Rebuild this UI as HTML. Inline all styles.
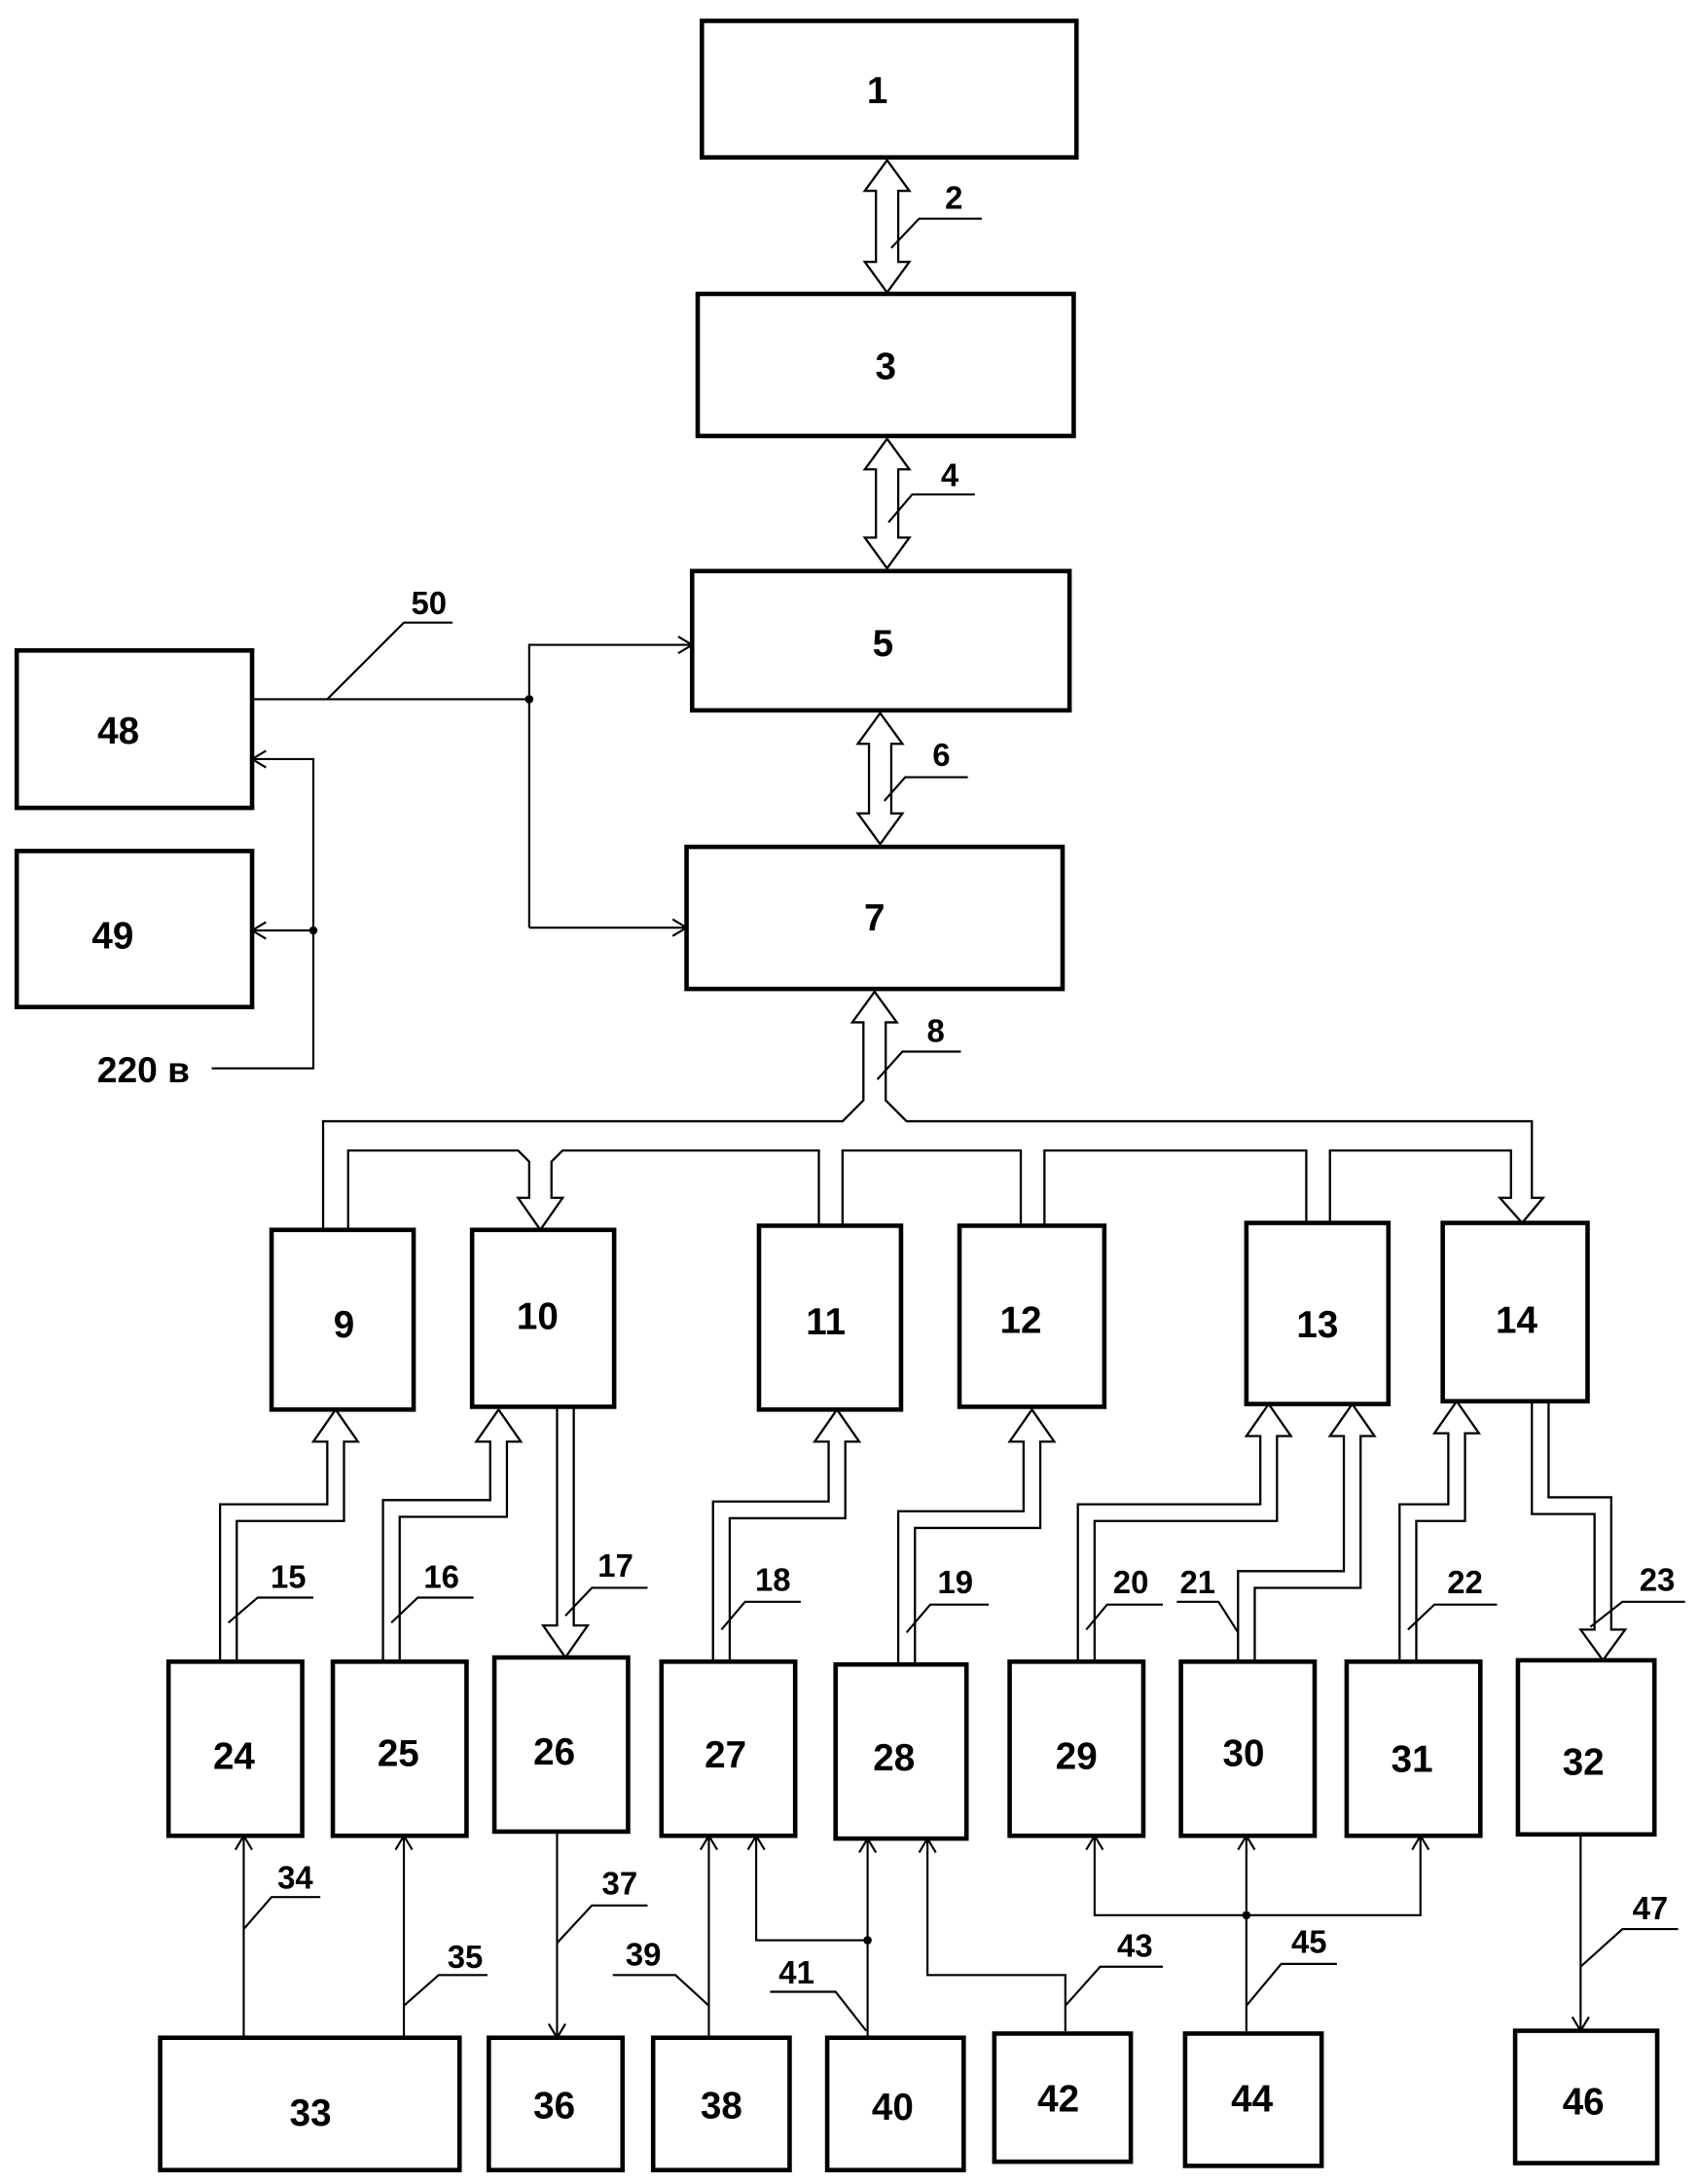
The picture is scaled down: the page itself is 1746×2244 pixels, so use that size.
<!DOCTYPE html>
<html><head><meta charset="utf-8"><style>
html,body{margin:0;padding:0;background:#fff}
svg{display:block}
text{font-family:"Liberation Sans",sans-serif;font-weight:bold;fill:#000}
.n{font-size:27px;text-anchor:middle}
.l{font-size:23px;text-anchor:middle}
</style></head><body>
<svg width="1746" height="2244" viewBox="0 0 1220 1568" xmlns="http://www.w3.org/2000/svg">
<defs>
<marker id="a" markerWidth="14" markerHeight="14" refX="12" refY="7" orient="auto" markerUnits="userSpaceOnUse">
<path d="M2,1 L12,7 L2,13" fill="none" stroke="#000" stroke-width="1.5"/>
</marker>
</defs>
<g fill="none" stroke="#000" stroke-width="3.2">
<rect x="504" y="15" width="269" height="98"/>
<rect x="501" y="211" width="270" height="102"/>
<rect x="497" y="410" width="271" height="100"/>
<rect x="493" y="608" width="270" height="102"/>
<rect x="12" y="467" width="169" height="113"/>
<rect x="12" y="611" width="169" height="112"/>
<rect x="195" y="883" width="102" height="129"/>
<rect x="339" y="883" width="102" height="127"/>
<rect x="545" y="880" width="102" height="132"/>
<rect x="689" y="880" width="104" height="130"/>
<rect x="895" y="878" width="102" height="130"/>
<rect x="1036" y="878" width="104" height="128"/>
<rect x="121" y="1193" width="96" height="125"/>
<rect x="239" y="1193" width="96" height="125"/>
<rect x="355" y="1190" width="96" height="125"/>
<rect x="475" y="1193" width="96" height="125"/>
<rect x="600" y="1195" width="94" height="125"/>
<rect x="725" y="1193" width="96" height="125"/>
<rect x="848" y="1193" width="96" height="125"/>
<rect x="967" y="1193" width="96" height="125"/>
<rect x="1090" y="1192" width="98" height="125"/>
<rect x="115" y="1463" width="215" height="95"/>
<rect x="351" y="1463" width="96" height="95"/>
<rect x="469" y="1463" width="98" height="95"/>
<rect x="594" y="1463" width="98" height="95"/>
<rect x="714" y="1460" width="98" height="92"/>
<rect x="851" y="1460" width="98" height="95"/>
<rect x="1088" y="1458" width="102" height="95"/>
</g>
<g fill="#fff" stroke="#000" stroke-width="1.6" stroke-linejoin="miter">
<polygon points="637,115 653,137 645,137 645,188 653,188 637,210 621,188 629,188 629,137 621,137"/>
<polygon points="637,315 653,337 645,337 645,386 653,386 637,408 621,386 629,386 629,337 621,337"/>
<polygon points="632,512 648,534 640,534 640,584 648,584 632,606 616,584 624,584 624,534 616,534"/>
</g>
<g fill="none" stroke="#000" stroke-width="1.6">
<!-- bus 8 -->
<polyline points="232,883 232,805 605,805 620,790 620,734 612,734 628,712 644,734 636,734 636,790 651,805 1100,805 1100,860 1108,860 1093,878 1077,860 1085,860 1085,826 955,826 955,878"/>
<polyline points="250,883 250,826 372,826 380,834 380,860 372,860 388,883 404,860 396,860 396,834 404,826 588,826 588,880"/>
<polyline points="605,880 605,826 733,826 733,880"/>
<polyline points="750,880 750,826 938,826 938,878"/>
<!-- up buses -->
<polyline points="158,1193 158,1080 235,1080 235,1035 225,1035 241,1012 257,1035 247,1035 247,1092 170,1092 170,1193"/>
<polyline points="275,1193 275,1077 352,1077 352,1035 342,1035 358,1012 374,1035 364,1035 364,1089 287,1089 287,1193"/>
<polyline points="512,1193 512,1078 595,1078 595,1035 585,1035 601,1012 617,1035 607,1035 607,1090 524,1090 524,1193"/>
<polyline points="645,1195 645,1085 735,1085 735,1035 725,1035 741,1012 757,1035 747,1035 747,1097 657,1097 657,1195"/>
<polyline points="774,1193 774,1080 905,1080 905,1031 895,1031 911,1008 927,1031 917,1031 917,1092 786,1092 786,1193"/>
<polyline points="889,1193 889,1128 965,1128 965,1031 955,1031 971,1008 987,1031 977,1031 977,1140 901,1140 901,1193"/>
<polyline points="1005,1193 1005,1080 1040,1080 1040,1029 1030,1029 1046,1006 1062,1029 1052,1029 1052,1092 1017,1092 1017,1193"/>
<!-- down buses -->
<polyline points="400,1010 400,1167 390,1167 406,1190 422,1167 412,1167 412,1010"/>
<polyline points="1100,1006 1100,1087 1145,1087 1145,1170 1135,1170 1151,1192 1167,1170 1157,1170 1157,1075 1112,1075 1112,1006"/>
</g>
<g fill="none" stroke="#000" stroke-width="1.5">
<!-- power -->
<line x1="181" y1="502" x2="380" y2="502"/>
<polyline points="380,666 380,463 497,463" marker-end="url(#a)"/>
<line x1="380" y1="666" x2="493" y2="666" marker-end="url(#a)"/>
<polyline points="152,767 225,767 225,545 181,545" marker-end="url(#a)"/>
<line x1="225" y1="668" x2="181" y2="668" marker-end="url(#a)"/>
<!-- thin -->
<line x1="175" y1="1463" x2="175" y2="1318" marker-end="url(#a)"/>
<line x1="290" y1="1463" x2="290" y2="1318" marker-end="url(#a)"/>
<line x1="400" y1="1315" x2="400" y2="1463" marker-end="url(#a)"/>
<line x1="509" y1="1463" x2="509" y2="1318" marker-end="url(#a)"/>
<line x1="623" y1="1463" x2="623" y2="1320" marker-end="url(#a)"/>
<polyline points="623,1393 543,1393 543,1318" marker-end="url(#a)"/>
<polyline points="765,1460 765,1418 666,1418 666,1320" marker-end="url(#a)"/>
<line x1="895" y1="1460" x2="895" y2="1318" marker-end="url(#a)"/>
<polyline points="895,1375 786,1375 786,1318" marker-end="url(#a)"/>
<polyline points="895,1375 1020,1375 1020,1318" marker-end="url(#a)"/>
<line x1="1135" y1="1317" x2="1135" y2="1458" marker-end="url(#a)"/>
<!-- leaders -->
<polyline points="640,178 660,157 705,157"/>
<polyline points="638,375 655,355 700,355"/>
<polyline points="635,575 650,558 695,558"/>
<polyline points="630,775 648,755 690,755"/>
<polyline points="235,502 290,447 325,447"/>
<polyline points="164,1165 185,1147 225,1147"/>
<polyline points="281,1165 300,1147 340,1147"/>
<polyline points="406,1160 425,1140 465,1140"/>
<polyline points="518,1170 535,1150 575,1150"/>
<polyline points="651,1172 668,1152 710,1152"/>
<polyline points="780,1170 795,1152 835,1152"/>
<polyline points="889,1172 875,1150 845,1150"/>
<polyline points="1011,1170 1030,1152 1075,1152"/>
<polyline points="1142,1168 1165,1150 1210,1150"/>
<polyline points="175,1385 195,1362 230,1362"/>
<polyline points="290,1440 315,1418 350,1418"/>
<polyline points="400,1395 425,1368 465,1368"/>
<polyline points="509,1440 485,1418 440,1418"/>
<polyline points="622,1458 600,1430 553,1430"/>
<polyline points="765,1440 790,1412 835,1412"/>
<polyline points="895,1440 920,1410 960,1410"/>
<polyline points="1135,1412 1165,1385 1205,1385"/>
</g>
<g fill="#000">
<circle cx="380" cy="502" r="3"/><circle cx="225" cy="668" r="3"/>
<circle cx="623" cy="1393" r="3"/><circle cx="895" cy="1375" r="3"/>
</g>
<g class="n">
<text class="n" x="630" y="74">1</text>
<text class="n" x="636" y="272">3</text>
<text class="n" x="634" y="471">5</text>
<text class="n" x="628" y="668">7</text>
<text class="n" x="85" y="534">48</text>
<text class="n" x="81" y="681">49</text>
<text class="n" x="247" y="960">9</text>
<text class="n" x="386" y="954">10</text>
<text class="n" x="593" y="958">11</text>
<text class="n" x="733" y="957">12</text>
<text class="n" x="946" y="960">13</text>
<text class="n" x="1089" y="957">14</text>
<text class="n" x="168" y="1270">24</text>
<text class="n" x="286" y="1268">25</text>
<text class="n" x="398" y="1267">26</text>
<text class="n" x="521" y="1269">27</text>
<text class="n" x="642" y="1271">28</text>
<text class="n" x="773" y="1270">29</text>
<text class="n" x="893" y="1268">30</text>
<text class="n" x="1014" y="1272">31</text>
<text class="n" x="1137" y="1274">32</text>
<text class="n" x="223" y="1526">33</text>
<text class="n" x="398" y="1521">36</text>
<text class="n" x="518" y="1521">38</text>
<text class="n" x="641" y="1522">40</text>
<text class="n" x="760" y="1516">42</text>
<text class="n" x="899" y="1516">44</text>
<text class="n" x="1137" y="1518">46</text>
</g>
<g>
<text class="l" x="685" y="150">2</text>
<text class="l" x="682" y="349">4</text>
<text class="l" x="676" y="550">6</text>
<text class="l" x="672" y="748">8</text>
<text class="l" x="308" y="441">50</text>
<text class="l" x="103" y="777" style="font-size:26px">220 в</text>
<text class="l" x="207" y="1140">15</text>
<text class="l" x="317" y="1140">16</text>
<text class="l" x="442" y="1132">17</text>
<text class="l" x="555" y="1142">18</text>
<text class="l" x="686" y="1144">19</text>
<text class="l" x="812" y="1144">20</text>
<text class="l" x="860" y="1144">21</text>
<text class="l" x="1052" y="1144">22</text>
<text class="l" x="1190" y="1142">23</text>
<text class="l" x="212" y="1356">34</text>
<text class="l" x="334" y="1413">35</text>
<text class="l" x="445" y="1360">37</text>
<text class="l" x="462" y="1411">39</text>
<text class="l" x="572" y="1424">41</text>
<text class="l" x="815" y="1405">43</text>
<text class="l" x="940" y="1402">45</text>
<text class="l" x="1185" y="1378">47</text>
</g>
</svg>
</body></html>
